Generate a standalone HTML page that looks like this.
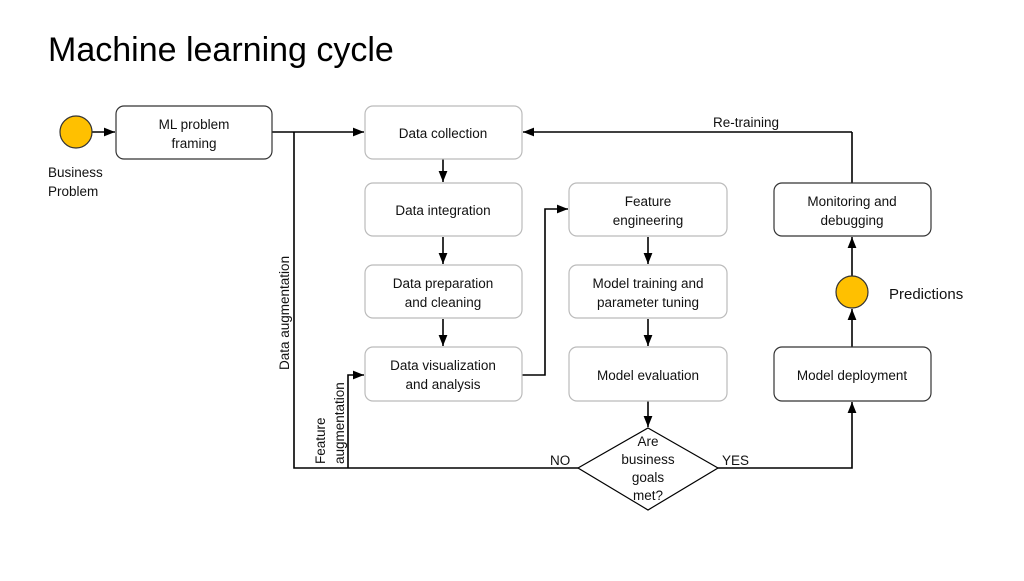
<!DOCTYPE html>
<html><head><meta charset="utf-8"><style>
body{margin:0;background:#fff}
svg text{font-family:"Liberation Sans",sans-serif;fill:#111}
</style></head><body>
<svg width="1024" height="576" viewBox="0 0 1024 576" xmlns="http://www.w3.org/2000/svg">
<defs><marker id="a" viewBox="0 0 10 10" refX="10" refY="5" markerWidth="7" markerHeight="7" orient="auto"><path d="M0,1L10,5L0,9z" fill="#000"/></marker></defs>
<text x="48" y="61" font-size="34" style="fill:#000">Machine learning cycle</text>
<g fill="none" stroke="#000" stroke-width="1.6">
<line x1="92" y1="132" x2="115" y2="132" marker-end="url(#a)"/>
<line x1="272" y1="132" x2="364" y2="132" marker-end="url(#a)"/>
<line x1="852" y1="183" x2="852" y2="132"/>
<line x1="852" y1="132" x2="523" y2="132" marker-end="url(#a)"/>
<line x1="443" y1="159" x2="443" y2="182" marker-end="url(#a)"/>
<line x1="443" y1="237" x2="443" y2="264" marker-end="url(#a)"/>
<line x1="443" y1="319" x2="443" y2="346" marker-end="url(#a)"/>
<polyline points="522,375 545,375 545,209 568,209" marker-end="url(#a)"/>
<line x1="648" y1="237" x2="648" y2="264" marker-end="url(#a)"/>
<line x1="648" y1="319" x2="648" y2="346" marker-end="url(#a)"/>
<line x1="648" y1="401" x2="648" y2="427" marker-end="url(#a)"/>
<polyline points="578,468 294,468 294,132"/>
<polyline points="348,468 348,375 364,375" marker-end="url(#a)"/>
<polyline points="718,468 852,468 852,402" marker-end="url(#a)"/>
<line x1="852" y1="347" x2="852" y2="309" marker-end="url(#a)"/>
<line x1="852" y1="276" x2="852" y2="237" marker-end="url(#a)"/>
</g>
<circle cx="76" cy="132" r="16" fill="#ffc000" stroke="#333" stroke-width="1.2"/>
<circle cx="852" cy="292" r="16" fill="#ffc000" stroke="#333" stroke-width="1.2"/>
<g fill="#fff" stroke-width="1.2">
<rect x="116" y="106" width="156" height="53" rx="8" stroke="#333"/>
<rect x="365" y="106" width="157" height="53" rx="8" stroke="#bbb"/>
<rect x="365" y="183" width="157" height="53" rx="8" stroke="#bbb"/>
<rect x="365" y="265" width="157" height="53" rx="8" stroke="#bbb"/>
<rect x="365" y="347" width="157" height="54" rx="8" stroke="#bbb"/>
<rect x="569" y="183" width="158" height="53" rx="8" stroke="#bbb"/>
<rect x="569" y="265" width="158" height="53" rx="8" stroke="#bbb"/>
<rect x="569" y="347" width="158" height="54" rx="8" stroke="#bbb"/>
<rect x="774" y="183" width="157" height="53" rx="8" stroke="#333"/>
<rect x="774" y="347" width="157" height="54" rx="8" stroke="#333"/>
<polygon points="648,428 718,468 648,510 578,468" stroke="#000"/>
</g>
<g font-size="13.5" text-anchor="middle">
<text x="194" y="129">ML problem</text><text x="194" y="148">framing</text>
<text x="443" y="138">Data collection</text>
<text x="443" y="215">Data integration</text>
<text x="443" y="288">Data preparation</text><text x="443" y="307">and cleaning</text>
<text x="443" y="370">Data visualization</text><text x="443" y="389">and analysis</text>
<text x="648" y="206">Feature</text><text x="648" y="225">engineering</text>
<text x="648" y="288">Model training and</text><text x="648" y="307">parameter tuning</text>
<text x="648" y="380">Model evaluation</text>
<text x="852" y="206">Monitoring and</text><text x="852" y="225">debugging</text>
<text x="852" y="380">Model deployment</text>
<text x="648" y="446">Are</text><text x="648" y="464">business</text><text x="648" y="482">goals</text><text x="648" y="500">met?</text>
<text x="746" y="127">Re-training</text>
</g>
<g font-size="13.5">
<text x="48" y="177">Business</text><text x="48" y="196">Problem</text>
<text x="889" y="299" font-size="15">Predictions</text>
<text x="550" y="465">NO</text>
<text x="722" y="465">YES</text>
<text transform="translate(289,370) rotate(-90)">Data augmentation</text>
<text transform="translate(325,464) rotate(-90)">Feature</text>
<text transform="translate(344,464) rotate(-90)">augmentation</text>
</g>
</svg>
</body></html>
